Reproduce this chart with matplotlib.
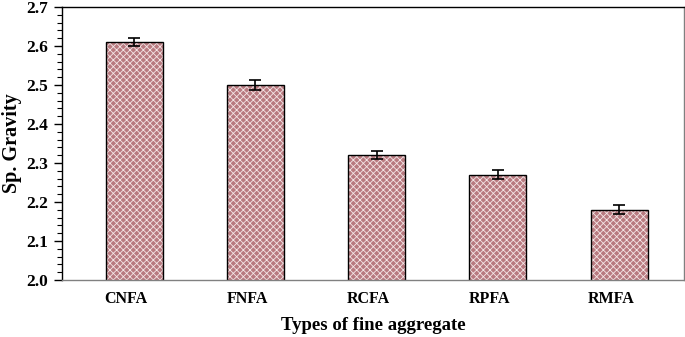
import matplotlib.pyplot as plt
import matplotlib.transforms as mtransforms
import numpy as np

categories = ["CNFA", "FNFA", "RCFA", "RPFA", "RMFA"]
sp_gravity = [2.61, 2.50, 2.32, 2.27, 2.18]
errors = [0.010, 0.012, 0.010, 0.011, 0.012]

plt.rcParams["font.family"] = ["Liberation Serif", "DejaVu Serif"]
plt.rcParams["font.weight"] = "bold"
plt.rcParams["hatch.color"] = "#f4e6e7"
plt.rcParams["hatch.linewidth"] = 0.6

fig = plt.figure(figsize=(6.85, 3.37), dpi=100)
ax = fig.add_axes([62 / 685, 1 - 280 / 337, 622 / 685, 273 / 337])

x = np.arange(len(categories))
ax.bar(x, sp_gravity, width=0.47, color="#b87a80", hatch="xxxxx", linewidth=0)
ax.bar(x, sp_gravity, width=0.47, fill=False, edgecolor="black", linewidth=1.0)
ax.errorbar(x, sp_gravity, yerr=errors, fmt="none", ecolor="black",
            elinewidth=1.2, capsize=4, capthick=1.2)

ax.set_xlim(-0.594, 4.536)
ax.set_ylim(2.0, 2.7)
ax.set_yticks(np.arange(2.0, 2.71, 0.1))
ax.set_yticklabels([f"{v:.1f}" for v in np.arange(2.0, 2.71, 0.1)])
ax.set_yticks(np.arange(2.0, 2.701, 0.02), minor=True)
ax.set_xticks(x)
ax.set_xticklabels(categories)

ax.tick_params(axis="x", length=0, pad=8, labelsize=11.5)
ax.tick_params(axis="y", which="major", direction="out", length=6, width=1,
               labelsize=12.5, pad=4)
ax.tick_params(axis="y", which="minor", direction="out", length=3.5, width=0.8)

# category labels sit a little left of the bar centres
shift = mtransforms.ScaledTranslation(-8 / 100, 0, fig.dpi_scale_trans)
for lbl in ax.get_xticklabels():
    lbl.set_transform(lbl.get_transform() + shift)

ax.spines["bottom"].set_color("#808080")
ax.spines["right"].set_color("#808080")
ax.spines["top"].set_color("black")
ax.spines["left"].set_color("black")
for s in ax.spines.values():
    s.set_linewidth(1.0)

ax.set_ylabel("Sp. Gravity", fontsize=14.5, fontweight="bold")
ax.yaxis.set_label_coords(-40 / 622, 0.5)
ax.set_xlabel("Types of fine aggregate", fontsize=13.5, fontweight="bold", labelpad=7)

fig.savefig("out.png", dpi=100)
